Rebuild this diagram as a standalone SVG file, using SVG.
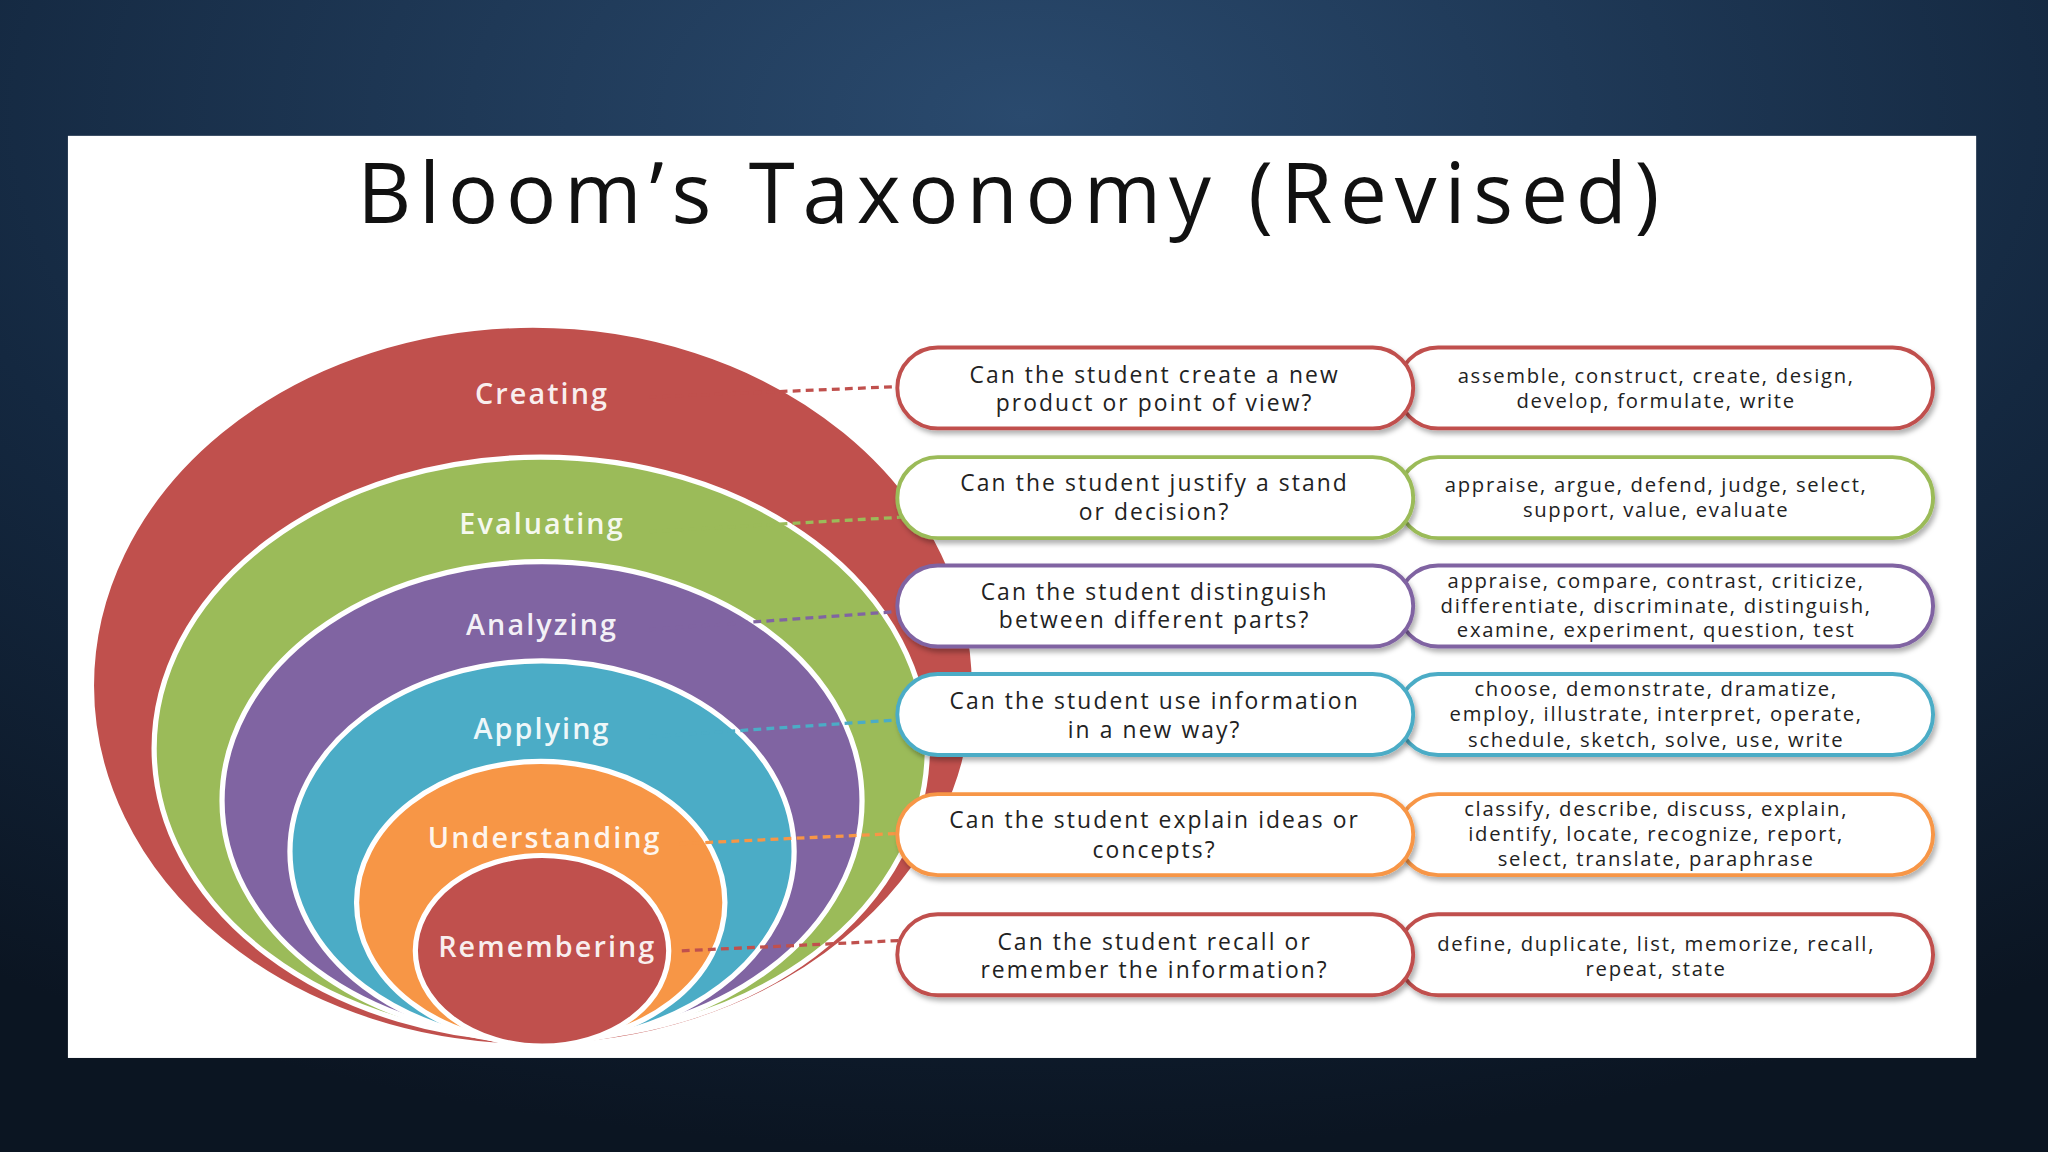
<svg xmlns="http://www.w3.org/2000/svg" width="2048" height="1152" viewBox="0 0 2048 1152">
<defs>
<radialGradient id="bg" cx="0.5" cy="0.1" r="0.9"><stop offset="0" stop-color="#2a4a6e"/><stop offset="0.6" stop-color="#142840"/><stop offset="1" stop-color="#0b1522"/></radialGradient>
<filter id="sh" x="-10%" y="-20%" width="120%" height="150%"><feDropShadow dx="2" dy="3" stdDeviation="2" flood-color="#000" flood-opacity="0.3"/></filter>
</defs>
<style>
.lbl{font-family:"Open Sans","Liberation Sans",sans-serif;font-size:22px;letter-spacing:1.6px;fill:#fff;text-anchor:middle;font-weight:600;fill-opacity:0.92}
.q{font-family:"Open Sans","Liberation Sans",sans-serif;font-size:17.5px;letter-spacing:1.6px;fill:#222;text-anchor:middle}
.v{font-family:"Open Sans","Liberation Sans",sans-serif;font-size:15.5px;letter-spacing:1.3px;fill:#222;text-anchor:middle}
.box{fill:#fff;stroke-width:3;filter:url(#sh)}
.ring{stroke:#fff;stroke-width:4}
.conn{fill:none;stroke-width:2.5;stroke-dasharray:6 4}
</style>
<rect width="2048" height="1152" fill="url(#bg)"/>
<g transform="scale(1.30612)">
<rect x="52" y="104" width="1461" height="706" fill="#fff"/>
<text x="775" y="171" font-family="Open Sans, Liberation Sans, sans-serif" font-size="64" letter-spacing="6" fill="#111" text-anchor="middle">Bloom’s Taxonomy (Revised)</text>
<g id="circles">
<ellipse class="ring" cx="408" cy="525" rx="338" ry="276" fill="#c0504d"/>
<ellipse class="ring" cx="414" cy="573" rx="296" ry="223" fill="#9bbb59"/>
<ellipse class="ring" cx="415" cy="613" rx="245" ry="183" fill="#8064a2"/>
<ellipse class="ring" cx="415" cy="652" rx="193" ry="146" fill="#4bacc6"/>
<ellipse class="ring" cx="414" cy="691" rx="141" ry="108" fill="#f79646"/>
<ellipse class="ring" cx="415" cy="728" rx="97" ry="73" fill="#c0504d"/>
</g>
<g id="connectors">
<path class="conn" stroke="#c0504d" d="M497 304 L687 296"/>
<path class="conn" stroke="#9bbb59" d="M497 407 L690 396"/>
<path class="conn" stroke="#8064a2" d="M497 482 L690 468"/>
<path class="conn" stroke="#4bacc6" d="M497 564 L690 551"/>
<path class="conn" stroke="#f79646" d="M520 646 L690 638"/>
<path class="conn" stroke="#c0504d" d="M522 728 L690 720"/>
</g>
<g id="labels">
<text class="lbl" x="415" y="309">Creating</text>
<text class="lbl" x="415" y="409">Evaluating</text>
<text class="lbl" x="415" y="486">Analyzing</text>
<text class="lbl" x="415" y="566">Applying</text>
<text class="lbl" x="417" y="649">Understanding</text>
<text class="lbl" x="419" y="733">Remembering</text>
</g>
<g id="n-creating">
<rect class="box" x="1070" y="266" width="410" height="62" rx="31" stroke="#c0504d"/>
<rect class="box" x="687" y="266" width="395" height="62" rx="31" stroke="#c0504d"/>
<text class="q" x="884" y="293">Can the student create a new</text><text class="q" x="884" y="315">product or point of view?</text>
<text class="v" x="1268" y="293">assemble, construct, create, design,</text><text class="v" x="1268" y="312">develop, formulate, write</text>
</g>
<g id="n-evaluating">
<rect class="box" x="1070" y="350" width="410" height="62" rx="31" stroke="#9bbb59"/>
<rect class="box" x="687" y="350" width="395" height="62" rx="31" stroke="#9bbb59"/>
<text class="q" x="884" y="376">Can the student justify a stand</text><text class="q" x="884" y="398">or decision?</text>
<text class="v" x="1268" y="377">appraise, argue, defend, judge, select,</text><text class="v" x="1268" y="396">support, value, evaluate</text>
</g>
<g id="n-analyzing">
<rect class="box" x="1070" y="433" width="410" height="62" rx="31" stroke="#8064a2"/>
<rect class="box" x="687" y="433" width="395" height="62" rx="31" stroke="#8064a2"/>
<text class="q" x="884" y="459">Can the student distinguish</text><text class="q" x="884" y="481">between different parts?</text>
<text class="v" x="1268" y="450">appraise, compare, contrast, criticize,</text><text class="v" x="1268" y="469">differentiate, discriminate, distinguish,</text><text class="v" x="1268" y="488">examine, experiment, question, test</text>
</g>
<g id="n-applying">
<rect class="box" x="1070" y="516" width="410" height="62" rx="31" stroke="#4bacc6"/>
<rect class="box" x="687" y="516" width="395" height="62" rx="31" stroke="#4bacc6"/>
<text class="q" x="884" y="543">Can the student use information</text><text class="q" x="884" y="565">in a new way?</text>
<text class="v" x="1268" y="533">choose, demonstrate, dramatize,</text><text class="v" x="1268" y="552">employ, illustrate, interpret, operate,</text><text class="v" x="1268" y="572">schedule, sketch, solve, use, write</text>
</g>
<g id="n-understanding">
<rect class="box" x="1070" y="608" width="410" height="62" rx="31" stroke="#f79646"/>
<rect class="box" x="687" y="608" width="395" height="62" rx="31" stroke="#f79646"/>
<text class="q" x="884" y="634">Can the student explain ideas or</text><text class="q" x="884" y="657">concepts?</text>
<text class="v" x="1268" y="625">classify, describe, discuss, explain,</text><text class="v" x="1268" y="644">identify, locate, recognize, report,</text><text class="v" x="1268" y="663">select, translate, paraphrase</text>
</g>
<g id="n-remembering">
<rect class="box" x="1070" y="700" width="410" height="62" rx="31" stroke="#c0504d"/>
<rect class="box" x="687" y="700" width="395" height="62" rx="31" stroke="#c0504d"/>
<text class="q" x="884" y="727">Can the student recall or</text><text class="q" x="884" y="749">remember the information?</text>
<text class="v" x="1268" y="728">define, duplicate, list, memorize, recall,</text><text class="v" x="1268" y="747">repeat, state</text>
</g>
</g>
</svg>
